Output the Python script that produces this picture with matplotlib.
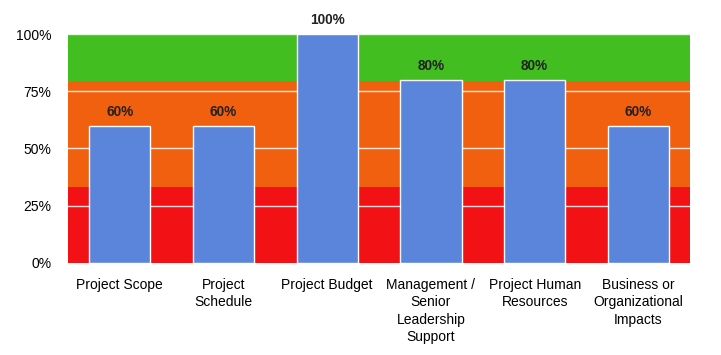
import matplotlib
matplotlib.use("Agg")
import matplotlib.pyplot as plt

categories = ["Project Scope", "Project\nSchedule", "Project Budget",
              "Management /\nSenior\nLeadership\nSupport", "Project Human\nResources",
              "Business or\nOrganizational\nImpacts"]
values = [60, 60, 100, 80, 80, 60]
bands = [(0, 33, "#F21216"), (33, 79.5, "#F1600F"), (79.5, 100, "#43BE20")]
yticks = [0, 25, 50, 75, 100]

plt.rcParams['font.family'] = ['Liberation Sans', 'DejaVu Sans']
fig = plt.figure(figsize=(7.21, 3.55), dpi=100)
ax = fig.add_axes([0.0943, 0.26, 0.863, 0.644])

n = len(categories)
ax.set_xlim(-0.5, n - 0.5)
ax.set_ylim(0, 100)
for lo, hi, c in bands:
    ax.axhspan(lo, hi, color=c, zorder=0, lw=0)
for t in yticks[1:]:
    ax.axhline(t, color="white", lw=1, zorder=1, alpha=0.85)
x = list(range(n))
ax.bar(x, values, width=0.59, color="#5B84DB", edgecolor="white", linewidth=1, zorder=2)
for xi, v in zip(x, values):
    ax.text(xi, v + 3, f"{v}%", ha="center", va="bottom", fontsize=9.8,
            fontweight="bold", color="#222222")
ax.set_xticks(x)
ax.set_xticklabels(categories, fontsize=10, linespacing=1.3)
ax.set_yticks(yticks)
ax.set_yticklabels([f"{t}%" for t in yticks], fontsize=10)
ax.tick_params(length=0)
ax.tick_params(axis='y', pad=12)
ax.tick_params(axis='x', pad=11)
for s in ax.spines.values():
    s.set_visible(False)
fig.savefig("out.png", dpi=100)
